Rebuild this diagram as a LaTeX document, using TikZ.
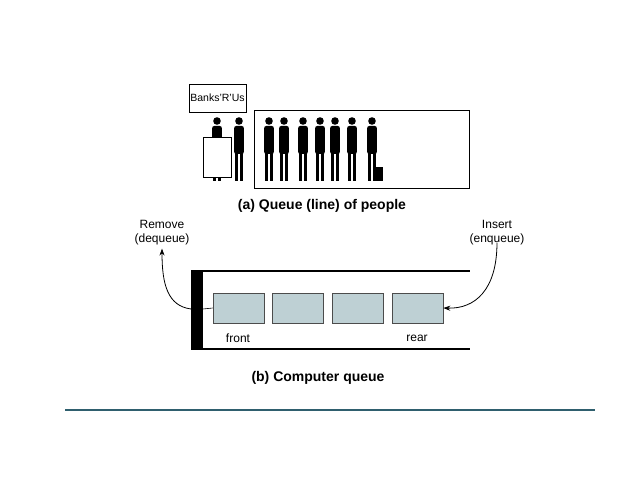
\documentclass[tikz,border=0pt]{standalone}
\usepackage{fontspec}
\setmainfont{Liberation Sans}
\usetikzlibrary{arrows.meta}
\definecolor{boxfill}{RGB}{190,208,212}
\definecolor{teal}{RGB}{47,95,110}
\tikzset{
  lbl/.style={font=\fontsize{12}{14}\selectfont, align=center, inner sep=0pt},
  captxt/.style={font=\bfseries\fontsize{14}{16}\selectfont, inner sep=0pt},
  qbox/.style={draw=black!70, fill=boxfill, line width=0.6pt},
  person/.pic={
    \fill (0,-60) circle (3.8);
    \fill[rounded corners=2pt] (-4.8,-55) rectangle (4.8,-27);
    \fill (-4.2,-28) rectangle (-0.6,0);
    \fill (0.6,-28) rectangle (4.2,0);
  }
}
\begin{document}
\begin{tikzpicture}[x=1pt,y=-1pt]
\useasboundingbox (0,0) rectangle (638,478);
% (a)
\node[draw, line width=0.9pt, minimum width=57pt, minimum height=28pt, inner sep=0pt,
  font=\fontsize{10.5}{12}\selectfont] (bank) at (217.5,98) {Banks'R'Us};
\draw[line width=0.9pt] (254,110) rectangle (469,188);
\foreach \x in {217,239,269,284,303,320,335,352,372} \pic at (\x,181) {person};
\draw[line width=0.9pt, fill=white] (203,137) rectangle (231,177);
\fill (376,167) rectangle (383,181);
\node[captxt] (capa) at (322,206) {(a) Queue (line) of people};
% (b)
\draw[line width=1.4pt] (191,271) -- (470,271);
\draw[line width=1.4pt] (191,349) -- (470,349);
\fill (191,270) rectangle (203,350);
\node[qbox, minimum width=51pt, minimum height=30pt] (q1) at (238.5,308) {};
\node[qbox, minimum width=51pt, minimum height=30pt] (q2) at (297.5,308) {};
\node[qbox, minimum width=51pt, minimum height=30pt] (q3) at (357.5,308) {};
\node[qbox, minimum width=51pt, minimum height=30pt] (q4) at (417.5,308) {};
\coordinate (bar) at (203,309);
\draw[line width=0.6pt] (bar) -- (q1.west);
\node[lbl] (front) at (238,338) {front};
\node[lbl] (rear) at (417,338) {rear};
\node[lbl] (rem) at (162,233) {Remove\\(dequeue)};
\node[lbl] (ins) at (497,233) {Insert\\(enqueue)};
\coordinate (barl) at (191,309);
\draw[line width=0.8pt, -{Stealth[length=7pt,width=5pt]}] (barl) .. controls (168,306) and (162,285) .. ([yshift=-3pt]rem.south);
\draw[line width=0.8pt, -{Stealth[length=7pt,width=5pt]}] ([yshift=3pt]ins.south) .. controls (497,290) and (475,309) .. (q4.east);
\node[captxt] (capb) at (318,378) {(b) Computer queue};
\draw[teal, line width=2pt] (65,410) -- (595,410);
\end{tikzpicture}
\end{document}
